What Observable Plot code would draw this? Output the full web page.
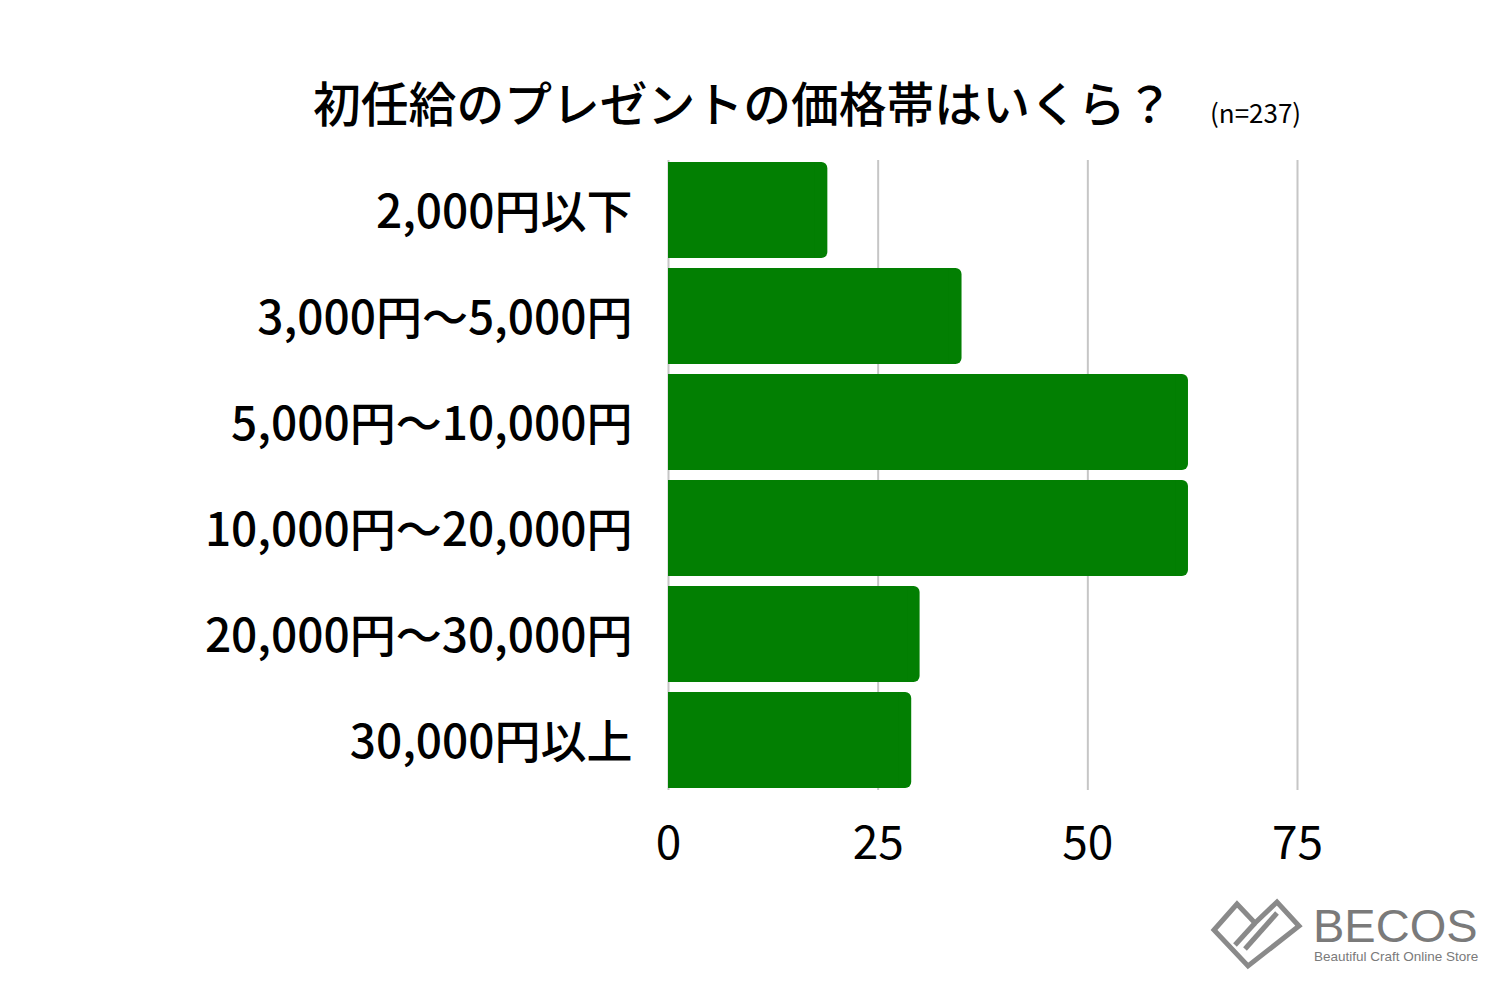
<!DOCTYPE html>
<html><head><meta charset="utf-8">
<script src="https://cdn.jsdelivr.net/npm/d3@7"></script>
<script src="https://cdn.jsdelivr.net/npm/@observablehq/plot@0.6"></script>
<style>
body{margin:0;background:#fff;}
#wrap{position:relative;width:1500px;height:1000px;font-family:"Noto Sans CJK JP";background:#fff;overflow:hidden;}
#title{position:absolute;left:313px;top:72px;font-size:47.8px;font-weight:500;line-height:60px;color:#000;white-space:nowrap;}
#n{position:absolute;left:1210px;top:95px;font-size:26px;line-height:34px;color:#000;font-family:"Noto Sans CJK JP";}
#chart{position:absolute;left:0;top:0;}
#logo{position:absolute;left:1205px;top:893px;}
</style></head>
<body>
<div id="wrap">
  <div id="chart"></div>
  <div id="title">初任給のプレゼントの価格帯はいくら？</div>
  <div id="n">(n=237)</div>
  <svg id="logo" width="290" height="80" viewBox="0 0 290 80">
    <g fill="none" stroke="#8a8a8a" stroke-width="5" stroke-linejoin="miter">
      <polygon points="9,37 32,11 50,30 72,9 94,33 43,73"/>
      <line x1="50" y1="30" x2="30" y2="52"/>
      <line x1="72" y1="20" x2="40" y2="56"/>
    </g>
    <text x="108" y="49" font-family="Liberation Sans, Arial" font-size="47" fill="#7a7a7a">BECOS</text>
    <text x="109" y="68" font-family="Liberation Sans, Arial" font-size="13.5" fill="#7a7a7a">Beautiful Craft Online Store</text>
  </svg>
</div>
<script>
const categories = ["2,000円以下","3,000円〜5,000円","5,000円〜10,000円","10,000円〜20,000円","20,000円〜30,000円","30,000円以上"];
const counts = [19, 35, 62, 62, 30, 29];
const xTicks = [0, 25, 50, 75];

const data = categories.map((c, i) => ({category: c, count: counts[i]}));

const chart = Plot.plot({
  width: 1500,
  height: 1000,
  marginTop: 160,
  marginBottom: 210,
  marginLeft: 668,
  marginRight: 203,
  style: {fontFamily: "Noto Sans CJK JP", fontSize: "46px", color: "#000", background: "transparent"},
  x: {domain: [0, 75], label: null},
  y: {domain: categories, label: null, paddingInner: 0.09, paddingOuter: 0.005},
  marks: [
    Plot.gridX(xTicks, {stroke: "#c6c6c6", strokeOpacity: 1, strokeWidth: 2}),
    Plot.barX(data, {x: "count", y: "category", fill: "#027f02", rx: 6}),
    Plot.barX(data, {x1: 0, x2: d => d.count - 1.5, y: "category", fill: "#027f02"}),
    Plot.axisY({tickSize: 0, tickPadding: 36, fontSize: 46, fontWeight: 500, dy: 3, label: null}),
    Plot.axisX({ticks: xTicks, tickSize: 0, tickPadding: 36, fontSize: 46, label: null})
  ]
});
document.getElementById("chart").appendChild(chart);
</script>
</body></html>
